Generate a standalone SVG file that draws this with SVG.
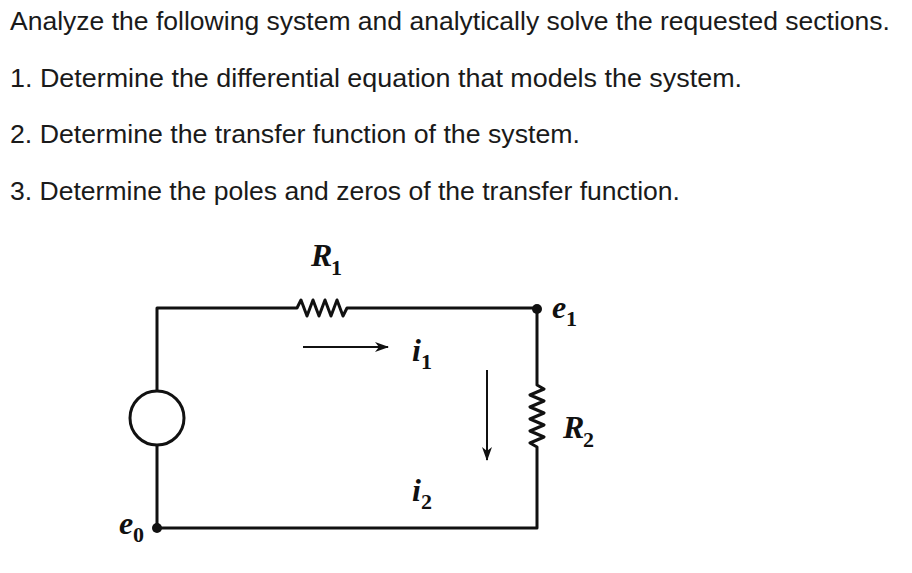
<svg xmlns="http://www.w3.org/2000/svg" width="912" height="573" viewBox="0 0 912 573">
<style>
.t{font-family:"Liberation Sans",Arial,sans-serif;font-size:25px;fill:#1a1a1a}
.w{fill:none;stroke:#111;stroke-width:3;stroke-linejoin:round}
.l{font-family:"Liberation Serif","Times New Roman",serif;font-style:italic;font-weight:bold;font-size:32px;fill:#111}
.s{font-family:"Liberation Serif","Times New Roman",serif;font-weight:bold;font-size:22px;fill:#111}
</style>
<defs><marker id="ah" markerWidth="14" markerHeight="10" refX="13" refY="5" orient="auto" markerUnits="userSpaceOnUse"><path d="M0,0L14,5L0,10L4,5Z" fill="#111"/></marker></defs>
<g id="text">
<text class="t" x="10" y="30" textLength="880" lengthAdjust="spacingAndGlyphs">Analyze the following system and analytically solve the requested sections.</text>
<text class="t" x="10" y="87" textLength="732" lengthAdjust="spacingAndGlyphs">1. Determine the differential equation that models the system.</text>
<text class="t" x="10" y="143" textLength="570" lengthAdjust="spacingAndGlyphs">2. Determine the transfer function of the system.</text>
<text class="t" x="10" y="200" textLength="670" lengthAdjust="spacingAndGlyphs">3. Determine the poles and zeros of the transfer function.</text>
</g>
<g id="connectors">
<path class="w" d="M157,391V308H297l4,-8l6,16l6,-16l6,16l6,-16l6,16l6,-16l6,16l4,-8H537V385l7,4l-14,6l14,6l-14,6l14,6l-14,6l14,6l-14,6l14,6l-14,6l7,4V528H157V445"/>
<line x1="303" y1="347" x2="388" y2="347" stroke="#111" stroke-width="2" marker-end="url(#ah)"/>
<line x1="487" y1="370" x2="487" y2="460" stroke="#111" stroke-width="2" marker-end="url(#ah)"/>
</g>
<g id="source"><circle cx="157" cy="418" r="27" fill="none" stroke="#111" stroke-width="3"/></g>
<g id="e1"><circle cx="537" cy="309" r="5" fill="#111"/><text class="l" x="552" y="318">e</text><text class="s" x="566" y="326">1</text></g>
<g id="e0"><circle cx="157" cy="528" r="5" fill="#111"/><text class="l" x="119" y="534">e</text><text class="s" x="133" y="542">0</text></g>
<g id="R1"><text class="l" x="311" y="266">R</text><text class="s" x="331" y="275">1</text></g>
<g id="R2"><text class="l" x="563" y="438">R</text><text class="s" x="583" y="447">2</text></g>
<g id="i1"><text class="l" x="412" y="361">i</text><text class="s" x="421" y="369">1</text></g>
<g id="i2"><text class="l" x="412" y="501">i</text><text class="s" x="421" y="509">2</text></g>
</svg>
